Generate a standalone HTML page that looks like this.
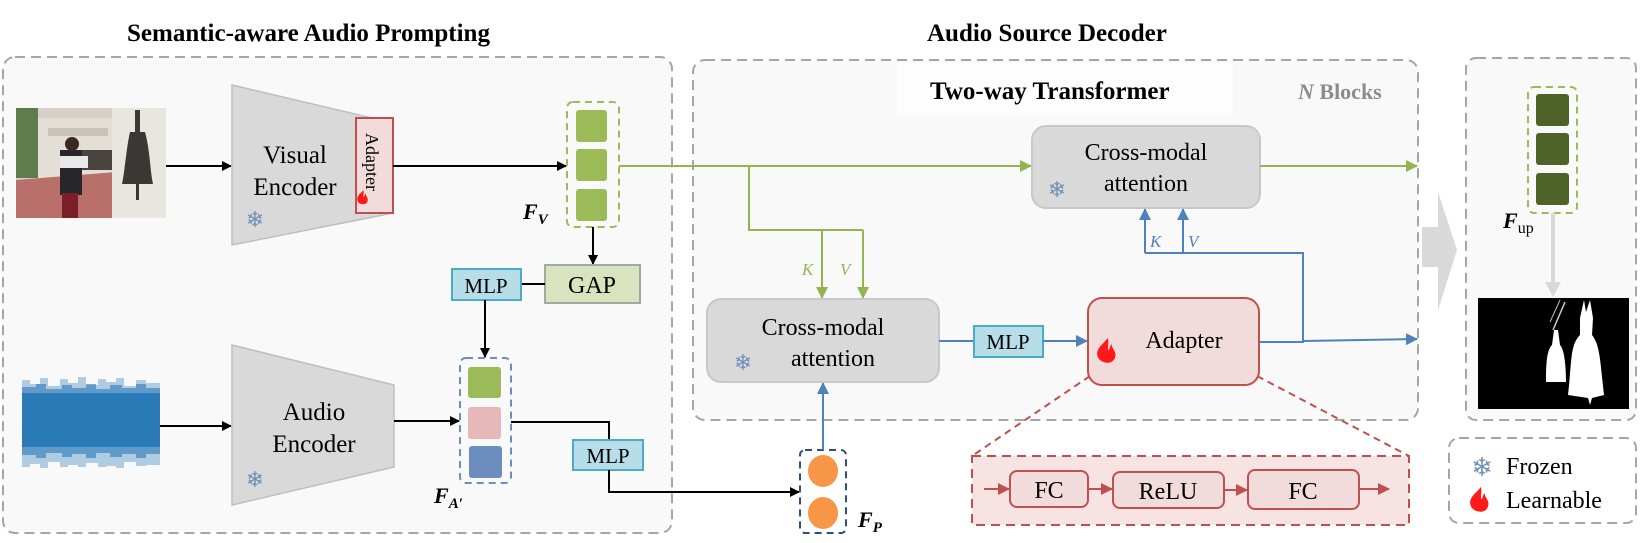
<!DOCTYPE html>
<html><head><meta charset="utf-8"><style>
html,body{margin:0;padding:0;background:#fff;}
svg{display:block;}
text{font-family:"Liberation Serif","DejaVu Serif",serif;}
</style></head><body>
<svg width="1641" height="543" viewBox="0 0 1641 543" xmlns="http://www.w3.org/2000/svg">
<defs>
<marker id="ak" markerWidth="10" markerHeight="10" refX="9" refY="5" orient="auto" markerUnits="userSpaceOnUse"><path d="M0,0 L10,5 L0,10 z" fill="#000"/></marker>
<marker id="ag" markerWidth="12" markerHeight="12" refX="11" refY="6" orient="auto" markerUnits="userSpaceOnUse"><path d="M0,0 L12,6 L0,12 z" fill="#92b550"/></marker>
<marker id="ab" markerWidth="12" markerHeight="12" refX="11" refY="6" orient="auto" markerUnits="userSpaceOnUse"><path d="M0,0 L12,6 L0,12 z" fill="#4f81bd"/></marker>
<marker id="ar" markerWidth="12" markerHeight="12" refX="11" refY="6" orient="auto" markerUnits="userSpaceOnUse"><path d="M0,0 L12,6 L0,12 z" fill="#c0504d"/></marker>
<g id="flame"><path d="M6,0 C2,6 -6,10 -5,18 C-4,24 2,26 6,26 C11,26 15,22 14,16 C13,12 10,10 10,6 C8,9 8,12 7,13 C5,10 8,5 6,0 z" fill="#ff1a1a"/></g>
</defs>

<!-- Titles -->
<text x="127" y="41" font-size="25" font-weight="bold">Semantic-aware Audio Prompting</text>
<text x="927" y="41" font-size="25" font-weight="bold">Audio Source Decoder</text>

<!-- Panels -->
<rect x="3" y="57" width="669" height="476" rx="12" fill="#f9f9f9" stroke="#a6a6a6" stroke-width="2" stroke-dasharray="10,6"/>
<rect x="693" y="60" width="725" height="360" rx="12" fill="#f9f9f9" stroke="#a6a6a6" stroke-width="2" stroke-dasharray="10,6"/>
<rect x="897" y="62" width="336" height="53" fill="#ffffff" opacity="0.7"/>
<text x="930" y="99" font-size="25" font-weight="bold">Two-way Transformer</text>
<text x="1298" y="99" font-size="22" font-weight="bold" fill="#8c8c8c"><tspan font-style="italic">N</tspan> Blocks</text>
<rect x="1466" y="58" width="170" height="362" rx="10" fill="#f9f9f9" stroke="#a6a6a6" stroke-width="2" stroke-dasharray="10,6"/>

<!-- Photo -->
<g>
<rect x="16" y="108" width="150" height="110" fill="#d6d0c8"/>
<rect x="16" y="108" width="22" height="70" fill="#5f7d4c"/>
<rect x="38" y="118" width="78" height="62" fill="#e3ded6"/>
<rect x="48" y="128" width="60" height="8" fill="#c9c3ba"/>
<path d="M16,180 L116,172 L116,218 L16,218 z" fill="#b9706a"/>
<rect x="112" y="108" width="54" height="110" fill="#e9e5df"/>
<rect x="82" y="150" width="30" height="20" fill="#4a4440"/>
<rect x="60" y="150" width="22" height="45" fill="#26262b"/>
<rect x="60" y="156" width="28" height="12" fill="#e8e8e8"/>
<rect x="62" y="193" width="16" height="25" fill="#7a1f2a"/>
<circle cx="72" cy="144" r="7" fill="#3a2a22"/>
<rect x="135" y="110" width="5" height="22" fill="#3c3a36"/>
<path d="M130,132 L145,132 C150,150 150,170 153,184 L122,184 C125,170 126,150 130,132 z" fill="#3a3834"/>
<rect x="136" y="184" width="3" height="16" fill="#3a3834"/>
</g>
<line x1="166" y1="166" x2="231" y2="166" stroke="#000" stroke-width="2" marker-end="url(#ak)"/>

<!-- Visual encoder -->
<path d="M232,85 L393,123 L393,213 L232,245 z" fill="#d9d9d9" stroke="#bfbfbf" stroke-width="1.5"/>
<rect x="356" y="118" width="37" height="95" fill="#f2dcdb" stroke="#c0504d" stroke-width="2"/>
<text transform="translate(366,133) rotate(90)" font-size="18">Adapter</text>
<use href="#flame" transform="translate(360,190) scale(0.55)"/>
<text x="295" y="163" font-size="25" text-anchor="middle">Visual</text>
<text x="295" y="195" font-size="25" text-anchor="middle">Encoder</text>
<text x="255" y="227" font-size="22" text-anchor="middle" fill="#6f8fb8">❄</text>
<line x1="393" y1="166" x2="566" y2="166" stroke="#000" stroke-width="2" marker-end="url(#ak)"/>

<!-- FV -->
<rect x="567" y="102" width="52" height="125" rx="6" fill="none" stroke="#9bbb59" stroke-width="2" stroke-dasharray="7,5"/>
<rect x="576" y="110" width="31" height="32" rx="3" fill="#9bbb59"/>
<rect x="576" y="149" width="31" height="32" rx="3" fill="#9bbb59"/>
<rect x="576" y="189" width="31" height="32" rx="3" fill="#9bbb59"/>
<text x="523" y="219" font-size="22" font-weight="bold" font-style="italic">F<tspan font-size="15" dy="5">V</tspan></text>
<line x1="593" y1="227" x2="593" y2="264" stroke="#000" stroke-width="2" marker-end="url(#ak)"/>
<rect x="545" y="265" width="95" height="38" fill="#d7e4bd" stroke="#a5a5a5" stroke-width="2"/>
<text x="592" y="293" font-size="24" text-anchor="middle">GAP</text>
<line x1="521" y1="284" x2="545" y2="284" stroke="#000" stroke-width="2"/>
<rect x="452" y="269" width="69" height="31" fill="#b7dee8" stroke="#4bacc6" stroke-width="2"/>
<text x="486" y="293" font-size="21" text-anchor="middle">MLP</text>
<line x1="485" y1="300" x2="485" y2="357" stroke="#000" stroke-width="2" marker-end="url(#ak)"/>

<!-- Waveform -->
<g fill="#2a7ab8">
<g opacity="0.35"><rect x="22" y="380" width="8" height="87"/><rect x="30" y="384" width="10" height="80"/><rect x="40" y="378" width="8" height="90"/><rect x="48" y="386" width="12" height="76"/><rect x="60" y="379" width="8" height="88"/><rect x="68" y="383" width="10" height="82"/><rect x="78" y="377" width="8" height="90"/><rect x="86" y="385" width="12" height="78"/><rect x="98" y="379" width="8" height="88"/><rect x="106" y="382" width="10" height="84"/><rect x="116" y="378" width="8" height="90"/><rect x="124" y="386" width="12" height="76"/><rect x="136" y="380" width="10" height="86"/><rect x="146" y="383" width="14" height="82"/></g>
<g opacity="0.6"><rect x="22" y="387" width="14" height="68"/><rect x="36" y="384" width="10" height="74"/><rect x="46" y="389" width="16" height="64"/><rect x="62" y="385" width="10" height="72"/><rect x="72" y="388" width="14" height="66"/><rect x="86" y="384" width="10" height="74"/><rect x="96" y="389" width="14" height="64"/><rect x="110" y="385" width="12" height="72"/><rect x="122" y="388" width="14" height="66"/><rect x="136" y="384" width="10" height="74"/><rect x="146" y="388" width="14" height="66"/></g>
<rect x="22" y="393" width="138" height="54"/>
</g>
<line x1="160" y1="426" x2="231" y2="426" stroke="#000" stroke-width="2" marker-end="url(#ak)"/>

<!-- Audio encoder -->
<path d="M232,345 L394,385 L394,467 L232,505 z" fill="#d9d9d9" stroke="#bfbfbf" stroke-width="1.5"/>
<text x="314" y="420" font-size="25" text-anchor="middle">Audio</text>
<text x="314" y="452" font-size="25" text-anchor="middle">Encoder</text>
<text x="255" y="487" font-size="22" text-anchor="middle" fill="#6f8fb8">❄</text>
<line x1="394" y1="421" x2="459" y2="421" stroke="#000" stroke-width="2" marker-end="url(#ak)"/>

<!-- FA' -->
<rect x="460" y="358" width="51" height="125" rx="6" fill="none" stroke="#6c8ebf" stroke-width="2" stroke-dasharray="7,5"/>
<rect x="468" y="367" width="33" height="31" rx="3" fill="#9bbb59"/>
<rect x="468" y="407" width="33" height="32" rx="3" fill="#e6b9b8"/>
<rect x="469" y="446" width="33" height="32" rx="3" fill="#6c8ebf"/>
<text x="434" y="503" font-size="22" font-weight="bold" font-style="italic">F<tspan font-size="15" dy="5">A′</tspan></text>
<polyline points="511,422 609,422 609,440" fill="none" stroke="#000" stroke-width="2"/>
<rect x="573" y="440" width="70" height="30" fill="#b7dee8" stroke="#4bacc6" stroke-width="2"/>
<text x="608" y="463" font-size="21" text-anchor="middle">MLP</text>
<polyline points="609,470 609,492 799,492" fill="none" stroke="#000" stroke-width="2" marker-end="url(#ak)"/>

<!-- FP -->
<rect x="800" y="450" width="46" height="83" rx="5" fill="none" stroke="#2f4f7f" stroke-width="2" stroke-dasharray="7,5"/>
<ellipse cx="823" cy="471" rx="15" ry="16" fill="#f79646"/>
<ellipse cx="823" cy="513" rx="15" ry="16" fill="#f79646"/>
<text x="858" y="527" font-size="22" font-weight="bold" font-style="italic">F<tspan font-size="15" dy="5">P</tspan></text>
<line x1="823" y1="450" x2="823" y2="383" stroke="#4f81bd" stroke-width="2" marker-end="url(#ab)"/>

<!-- green lines -->
<line x1="619" y1="166" x2="1031" y2="166" stroke="#92b550" stroke-width="2" marker-end="url(#ag)"/>
<polyline points="749,166 749,230 863,230" fill="none" stroke="#92b550" stroke-width="2"/>
<line x1="822" y1="230" x2="822" y2="298" stroke="#92b550" stroke-width="2" marker-end="url(#ag)"/>
<line x1="863" y1="230" x2="863" y2="298" stroke="#92b550" stroke-width="2" marker-end="url(#ag)"/>
<text x="802" y="275" font-size="17" font-style="italic" fill="#92b550">K</text>
<text x="840" y="275" font-size="17" font-style="italic" fill="#92b550">V</text>

<!-- lower cross-modal -->
<rect x="707" y="299" width="232" height="83" rx="14" fill="#d9d9d9" stroke="#c8c8c8" stroke-width="2"/>
<text x="823" y="335" font-size="24" text-anchor="middle">Cross-modal</text>
<text x="833" y="366" font-size="24" text-anchor="middle">attention</text>
<text x="743" y="370" font-size="22" text-anchor="middle" fill="#6f8fb8">❄</text>
<line x1="939" y1="341" x2="974" y2="341" stroke="#4f81bd" stroke-width="2"/>
<rect x="974" y="326" width="69" height="31" fill="#b7dee8" stroke="#4bacc6" stroke-width="2"/>
<text x="1008" y="349" font-size="21" text-anchor="middle">MLP</text>
<line x1="1043" y1="341" x2="1087" y2="341" stroke="#4f81bd" stroke-width="2" marker-end="url(#ab)"/>

<!-- Adapter -->
<rect x="1088" y="298" width="171" height="87" rx="14" fill="#f2dcdb" stroke="#c0504d" stroke-width="2"/>
<text x="1184" y="348" font-size="24" text-anchor="middle">Adapter</text>
<use href="#flame" transform="translate(1102,338) scale(0.95)"/>
<polyline points="1259,342 1303,342 1303,253 1145,253" fill="none" stroke="#4f81bd" stroke-width="2"/>
<line x1="1145" y1="253" x2="1145" y2="209" stroke="#4f81bd" stroke-width="2" marker-end="url(#ab)"/>
<line x1="1183" y1="253" x2="1183" y2="209" stroke="#4f81bd" stroke-width="2" marker-end="url(#ab)"/>
<text x="1150" y="247" font-size="17" font-style="italic" fill="#4f81bd">K</text>
<text x="1188" y="247" font-size="17" font-style="italic" fill="#4f81bd">V</text>
<line x1="1303" y1="341" x2="1417" y2="339" stroke="#4f81bd" stroke-width="2" marker-end="url(#ab)"/>

<!-- top cross-modal -->
<rect x="1032" y="126" width="228" height="82" rx="14" fill="#d9d9d9" stroke="#c8c8c8" stroke-width="2"/>
<text x="1146" y="160" font-size="24" text-anchor="middle">Cross-modal</text>
<text x="1146" y="191" font-size="24" text-anchor="middle">attention</text>
<text x="1057" y="197" font-size="22" text-anchor="middle" fill="#6f8fb8">❄</text>
<line x1="1260" y1="166" x2="1417" y2="166" stroke="#92b550" stroke-width="2" marker-end="url(#ag)"/>

<!-- zoom dashed lines & FC chain -->
<line x1="1090" y1="376" x2="972" y2="456" stroke="#c0504d" stroke-width="2" stroke-dasharray="7,5"/>
<line x1="1257" y1="376" x2="1409" y2="456" stroke="#c0504d" stroke-width="2" stroke-dasharray="7,5"/>
<rect x="972" y="456" width="437" height="69" fill="#f6e3e2" stroke="#c0504d" stroke-width="2" stroke-dasharray="9,6"/>
<line x1="984" y1="489" x2="1009" y2="489" stroke="#c0504d" stroke-width="2" marker-end="url(#ar)"/>
<rect x="1010" y="471" width="78" height="36" rx="7" fill="#f2dcdb" stroke="#c0504d" stroke-width="2"/>
<text x="1049" y="498" font-size="24" text-anchor="middle">FC</text>
<line x1="1088" y1="489" x2="1112" y2="489" stroke="#c0504d" stroke-width="2" marker-end="url(#ar)"/>
<rect x="1113" y="472" width="111" height="36" rx="7" fill="#f2dcdb" stroke="#c0504d" stroke-width="2"/>
<text x="1168" y="499" font-size="24" text-anchor="middle">ReLU</text>
<line x1="1224" y1="490" x2="1247" y2="490" stroke="#c0504d" stroke-width="2" marker-end="url(#ar)"/>
<rect x="1248" y="470" width="111" height="39" rx="7" fill="#f2dcdb" stroke="#c0504d" stroke-width="2"/>
<text x="1303" y="499" font-size="24" text-anchor="middle">FC</text>
<line x1="1359" y1="489" x2="1389" y2="489" stroke="#c0504d" stroke-width="2" marker-end="url(#ar)"/>

<!-- big gray arrow -->
<path d="M1422,227 L1438,227 L1438,192 L1457,250 L1438,310 L1438,267 L1422,267 z" fill="#d9d9d9"/>

<!-- F_up -->
<rect x="1528" y="87" width="49" height="126" rx="6" fill="none" stroke="#9bbb59" stroke-width="2" stroke-dasharray="7,5"/>
<rect x="1536" y="94" width="33" height="32" rx="3" fill="#4f6228"/>
<rect x="1536" y="133" width="33" height="32" rx="3" fill="#4f6228"/>
<rect x="1536" y="173" width="33" height="32" rx="3" fill="#4f6228"/>
<text x="1503" y="228" font-size="22" font-weight="bold" font-style="italic">F<tspan font-size="16" font-style="normal" font-weight="normal" dy="5">up</tspan></text>
<line x1="1553" y1="213" x2="1553" y2="283" stroke="#d9d9d9" stroke-width="4"/>
<path d="M1545,282 L1561,282 L1553,297 z" fill="#d9d9d9"/>

<!-- mask -->
<rect x="1478" y="298" width="151" height="111" fill="#000"/>
<path d="M1584,300 L1586,312 L1590,300 L1593,318 L1592,335 C1600,345 1600,360 1604,395 L1592,398 L1590,405 L1588,398 L1568,395 C1572,360 1570,345 1580,335 L1580,318 z" fill="#fff"/>
<path d="M1554,330 L1558,330 L1560,345 C1565,350 1566,370 1566,382 L1546,382 C1546,370 1546,350 1552,345 z" fill="#fff"/>
<path d="M1565,302 L1553,330" stroke="#ccc" stroke-width="1.5"/>
<path d="M1560,300 L1550,322" stroke="#bbb" stroke-width="1"/>

<!-- legend -->
<rect x="1449" y="438" width="187" height="85" rx="10" fill="#fff" stroke="#a6a6a6" stroke-width="2" stroke-dasharray="10,6"/>
<text x="1482" y="476" font-size="26" text-anchor="middle" fill="#6f8fb8">❄</text>
<text x="1506" y="474" font-size="24">Frozen</text>
<use href="#flame" transform="translate(1475,487) scale(0.95)"/>
<text x="1506" y="508" font-size="24">Learnable</text>
</svg>
</body></html>
